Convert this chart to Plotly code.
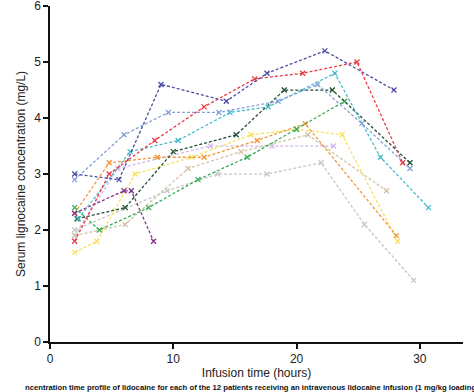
import plotly.graph_objects as go

# Patient series (time in hours, concentration in mg/L)
navy_x = [2, 5.6, 9, 14.3, 17.6, 22.3, 27.9]
navy_y = [3.0, 2.9, 4.6, 4.3, 4.8, 5.2, 4.5]
red_x = [2, 4.8, 8.5, 12.5, 16.6, 20.5, 24.9, 28.6]
red_y = [1.8, 3.0, 3.6, 4.2, 4.7, 4.8, 5.0, 3.2]
cblue_x = [2, 6, 9.6, 13.7, 18.5, 21.7, 25.3, 29.2]
cblue_y = [2.9, 3.7, 4.1, 4.1, 4.3, 4.6, 3.9, 3.1]
cyan_x = [2.3, 6.5, 10.4, 14.6, 17.7, 23.1, 26.8, 30.7]
cyan_y = [2.2, 3.4, 3.6, 4.1, 4.2, 4.8, 3.3, 2.4]
dgreen_x = [2.2, 6.1, 10, 15.1, 19, 22.9, 29.2]
dgreen_y = [2.2, 2.4, 3.4, 3.7, 4.5, 4.5, 3.2]
green_x = [2, 4, 8, 12, 16, 20, 23.9]
green_y = [2.4, 2.0, 2.4, 2.9, 3.3, 3.8, 4.3]
purple_x = [2, 6, 6.6, 8.4]
purple_y = [2.3, 2.7, 2.7, 1.8]
orange_x = [2, 4.8, 8.7, 12.5, 16.8, 20.7, 28.1]
orange_y = [2.3, 3.2, 3.3, 3.3, 3.6, 3.9, 1.9]
yellow_x = [2, 3.8, 6.9, 11.5, 16.3, 20, 23.7, 28.2]
yellow_y = [1.6, 1.8, 3.0, 3.3, 3.7, 3.8, 3.7, 1.8]
tan_x = [2, 6.1, 11.2, 15.5, 20.9, 27.3]
tan_y = [1.9, 2.1, 3.1, 3.4, 3.7, 2.7]
gray_x = [2, 9.5, 13.6, 17.6, 22, 25.5, 29.5]
gray_y = [2.0, 2.7, 3.0, 3.0, 3.2, 2.1, 1.1]
lav_x = [2, 5.5, 13, 18, 23]
lav_y = [1.9, 3.1, 3.5, 3.5, 3.5]

series = [
    (lav_x, lav_y, "#d2b8ec"),
    (gray_x, gray_y, "#c8c8c8"),
    (tan_x, tan_y, "#d2c2a6"),
    (yellow_x, yellow_y, "#f9e060"),
    (orange_x, orange_y, "#f2973a"),
    (purple_x, purple_y, "#82318a"),
    (green_x, green_y, "#36ac56"),
    (dgreen_x, dgreen_y, "#234f33"),
    (cyan_x, cyan_y, "#45bccb"),
    (cblue_x, cblue_y, "#86a2d6"),
    (red_x, red_y, "#ea3a45"),
    (navy_x, navy_y, "#4c4ca4"),
]

x_ticks = [0, 10, 20, 30]
y_ticks = [0, 1, 2, 3, 4, 5, 6]

fig = go.Figure()
for xs, ys, c in series:
    fig.add_trace(go.Scatter(
        x=xs, y=ys, mode="lines+markers",
        line=dict(color=c, width=1.3, dash="3px,2px"),
        marker=dict(symbol="x-thin", size=5, line=dict(color=c, width=1.3)),
        showlegend=False,
    ))

font = dict(family="Liberation Sans, Arial, sans-serif", size=12, color="#222")
fig.update_layout(
    width=474, height=392,
    margin=dict(l=50, r=11, t=6, b=50),
    paper_bgcolor="white", plot_bgcolor="white",
    font=font,
    xaxis=dict(range=[0, 33.5], tickvals=x_ticks, showgrid=False, zeroline=False,
               automargin=False, ticklabeloverflow="allow",
               showline=True, linecolor="#111", linewidth=1.5,
               ticks="outside", ticklen=5, tickcolor="#111", tickwidth=1.5,
               title=dict(text="Infusion time (hours)", standoff=2, font=font)),
    yaxis=dict(range=[0, 6.001], tickvals=y_ticks, showgrid=False, zeroline=False,
               automargin=False, ticklabeloverflow="allow",
               showline=True, linecolor="#111", linewidth=1.5,
               ticks="outside", ticklen=5, tickcolor="#111", tickwidth=1.5,
               title=dict(text="Serum lignocaine concentration (mg/L)", standoff=6, font=font)),
)
fig.add_annotation(
    x=0.5, y=0, xref="paper", yref="paper", xanchor="center", yanchor="middle",
    yshift=-45, text="<b>ncentration time profile of lidocaine for each of the 12 patients receiving an intravenous lidocaine infusion (1 mg/kg loading do</b>",
    showarrow=False, font=dict(family="Liberation Sans, Arial, sans-serif", size=7.7, color="#111"),
)
fig.write_html("out.html", config={"displayModeBar": False},
               post_script="document.body.style.margin='0';")
